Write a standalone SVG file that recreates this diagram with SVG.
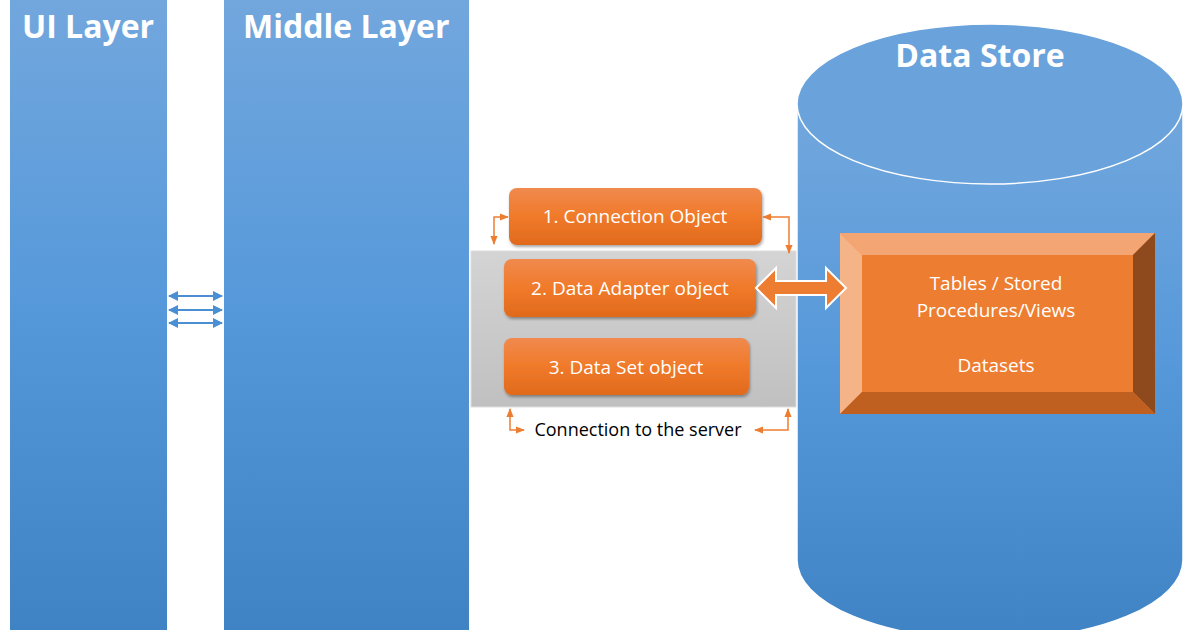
<svg xmlns="http://www.w3.org/2000/svg" width="1200" height="630" viewBox="0 0 1200 630">
<defs>
<linearGradient id="blue" x1="0" y1="0" x2="0" y2="1"><stop offset="0" stop-color="#72a7dd"/><stop offset="0.5" stop-color="#5598da"/><stop offset="1" stop-color="#3f83c4"/></linearGradient>
<linearGradient id="cyl" x1="0" y1="0" x2="0" y2="1"><stop offset="0" stop-color="#72a7dd"/><stop offset="0.5" stop-color="#5598da"/><stop offset="1" stop-color="#3f83c4"/></linearGradient>
<linearGradient id="org" x1="0" y1="0" x2="0" y2="1"><stop offset="0" stop-color="#f08a4e"/><stop offset="0.5" stop-color="#f07a2a"/><stop offset="1" stop-color="#e06a1c"/></linearGradient>
<linearGradient id="gray" x1="0" y1="0" x2="0" y2="1"><stop offset="0" stop-color="#d4d4d4"/><stop offset="1" stop-color="#c0c0c0"/></linearGradient>
<marker id="oa" viewBox="0 0 10 10" refX="9" refY="5" markerWidth="6" markerHeight="6" orient="auto-start-reverse"><path d="M0,1 L10,5 L0,9 z" fill="#ed7d31"/></marker>
<marker id="ba" viewBox="0 0 10 10" refX="9" refY="5" markerWidth="5" markerHeight="5" orient="auto-start-reverse"><path d="M0,0 L10,5 L0,10 z" fill="#4a8fd4"/></marker>
<filter id="sh" x="-10%" y="-10%" width="120%" height="130%"><feDropShadow dx="1" dy="2" stdDeviation="1.5" flood-opacity="0.35"/></filter>
<style>
.lt{font-family:"Open Sans","Liberation Sans",sans-serif;font-weight:bold;fill:#fff;font-size:32px}
.bt{font-family:"Open Sans","Liberation Sans",sans-serif;fill:#fff;font-size:19px;text-anchor:middle}
.oc{fill:none;stroke:#ed7d31;stroke-width:1.5}
.bc{stroke:#4a8fd4;stroke-width:2}
</style>
</defs>
<rect width="1200" height="630" fill="#fff"/>
<g id="ui-layer"><rect x="10" y="0" width="157" height="630" fill="url(#blue)"/><text x="22" y="38" class="lt">UI Layer</text></g>
<g id="middle-layer"><rect x="224" y="0" width="245" height="630" fill="url(#blue)"/><text x="243" y="38" class="lt">Middle Layer</text></g>
<g id="data-store">
<path d="M797,105 L797,560 A193,80 0 0 0 1183,560 L1183,105 Z" fill="url(#cyl)" stroke="#fff" stroke-width="1.5"/>
<ellipse cx="990" cy="104" rx="193" ry="80" fill="#6aa3dc" stroke="#fff" stroke-width="1.5"/>
<text x="980" y="67" class="lt" text-anchor="middle">Data Store</text>
</g>
<g id="server-box"><rect x="471" y="251" width="325" height="156" fill="url(#gray)" stroke="#ddd"/></g>
<g id="conn-obj"><rect x="509" y="188" width="253" height="57" rx="8" fill="url(#org)" filter="url(#sh)"/><text x="635" y="223" class="bt">1. Connection Object</text></g>
<g id="adapter-obj"><rect x="504" y="259" width="252" height="58" rx="8" fill="url(#org)" filter="url(#sh)"/><text x="630" y="295" class="bt">2. Data Adapter object</text></g>
<g id="dataset-obj"><rect x="504" y="338" width="245" height="57" rx="8" fill="url(#org)" filter="url(#sh)"/><text x="626" y="374" class="bt">3. Data Set object</text></g>
<g id="tables">
<rect x="840" y="233" width="315" height="181" fill="#ed7d31"/>
<polygon points="840,233 1155,233 1133,255 862,255" fill="#f3a673"/>
<polygon points="840,233 862,255 862,392 840,414" fill="#f5b487"/>
<polygon points="1155,233 1155,414 1133,392 1133,255" fill="#8e4a1c"/>
<polygon points="840,414 862,392 1133,392 1155,414" fill="#bf5f20"/>
<rect x="862" y="255" width="271" height="137" fill="#ed7d31"/>
<text x="996" y="290" class="bt">Tables / Stored</text>
<text x="996" y="317" class="bt">Procedures/Views</text>
<text x="996" y="372" class="bt">Datasets</text>
</g>
<g id="connectors">
<polygon points="756,288 776,268 776,281 826,281 826,268 846,288 826,308 826,295 776,295 776,308" fill="#ed7d31" stroke="#fff" stroke-width="2"/>
<polyline class="oc" points="508,217 494,217 494,244" marker-start="url(#oa)" marker-end="url(#oa)"/>
<polyline class="oc" points="763,217 789,217 789,253" marker-start="url(#oa)" marker-end="url(#oa)"/>
<polyline class="oc" points="510,409 510,430 524,430" marker-start="url(#oa)" marker-end="url(#oa)"/>
<polyline class="oc" points="788,409 788,430 755,430" marker-start="url(#oa)" marker-end="url(#oa)"/>
<line class="bc" x1="169" y1="296" x2="222" y2="296" marker-start="url(#ba)" marker-end="url(#ba)"/>
<line class="bc" x1="169" y1="310" x2="222" y2="310" marker-start="url(#ba)" marker-end="url(#ba)"/>
<line class="bc" x1="169" y1="323" x2="222" y2="323" marker-start="url(#ba)" marker-end="url(#ba)"/>
</g>
<text x="638" y="436" font-family="'Open Sans','Liberation Sans',sans-serif" font-size="18" text-anchor="middle" fill="#000">Connection to the server</text>
</svg>
